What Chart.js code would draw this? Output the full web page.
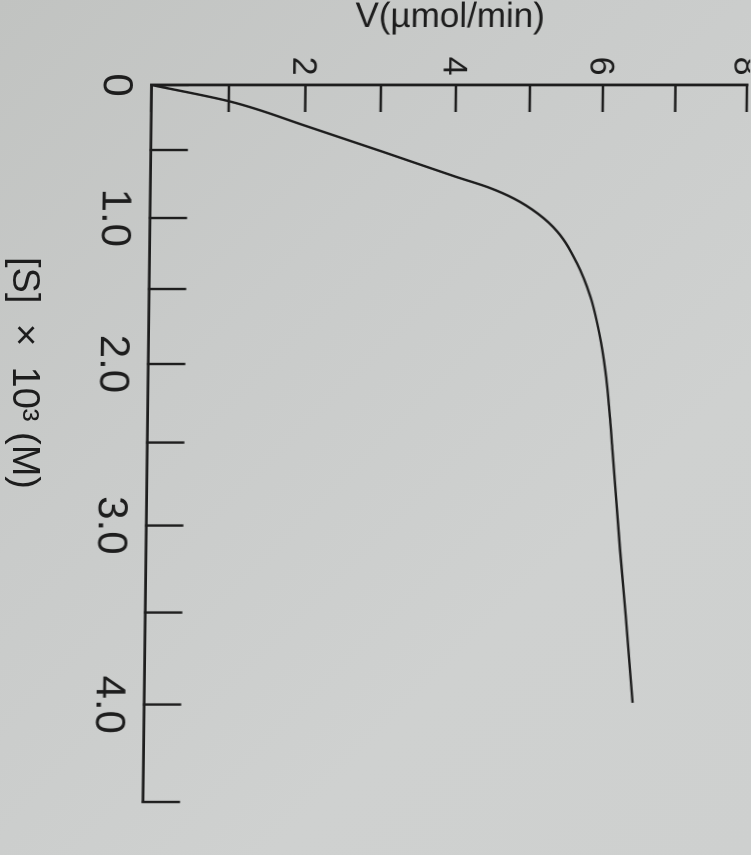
<!DOCTYPE html>
<html><head><meta charset="utf-8">
<script src="https://cdn.jsdelivr.net/npm/chart.js@4.4.1/dist/chart.umd.min.js"></script>
<style>
html,body{margin:0;padding:0;width:751px;height:855px;overflow:hidden;}
body{position:relative;background:linear-gradient(135deg,#c1c3c1 0%,#c9cbca 35%,#cfd1d0 70%,#ced0cf 100%);font-family:"Liberation Sans",Arial,sans-serif;}
#wrap{position:absolute;left:0;top:0;width:855px;height:751px;transform-origin:0 0;transform:skewX(-0.69deg) translate(751px,0) rotate(90deg);}
#c{display:block;width:855px;height:751px;}
#xt{position:absolute;left:6px;top:257px;width:40px;writing-mode:vertical-rl;font-family:"Liberation Sans",Arial,sans-serif;font-size:38px;line-height:40px;color:#1d1d1d;white-space:nowrap;}
</style></head><body>
<div id="wrap"><canvas id="c" width="855" height="751"></canvas></div>
<div id="xt"></div>
<script>
// ---- data ----
const substrate = [0, 0.13, 0.32, 0.51, 0.70, 0.78, 0.86, 0.97, 1.10, 1.32, 1.55, 1.80, 2.05, 2.30, 2.55, 3.14, 3.52, 3.99]; // [S] x 10^3 (M)
const velocity  = [0, 1.02, 2.02, 3.01, 4.01, 4.46, 4.80, 5.13, 5.40, 5.67, 5.86, 5.99, 6.08, 6.14, 6.19, 6.31, 6.40, 6.51]; // V (µmol/min)
const xLabelValues = [0, 1, 2, 3, 4];
const xLabelTexts  = ['0', '1.0', '2.0', '3.0', '4.0'];
const yLabelValues = [2, 4, 6, 8];
const xTitle = '[S] × 10³ (M)';
const yTitle = 'V(µmol/min)';

document.getElementById('xt').textContent = xTitle;

// Linear scale with a mild projective warp (the photo is taken in perspective)
class WarpScale extends Chart.LinearScale {
  getPixelForValue(value) {
    if (value === null || value === undefined || isNaN(value)) return NaN;
    const k = this.options.warp || 0;
    const t = (value - this.min) / (this.max - this.min);
    return this.getPixelForDecimal(t * (1 + k) / (1 + k * t));
  }
  getValueForPixel(pixel) {
    const k = this.options.warp || 0;
    const u = this.getDecimalForPixel(pixel);
    return this.min + (u / (1 + k - k * u)) * (this.max - this.min);
  }
}
WarpScale.id = 'warp';
WarpScale.defaults = Chart.LinearScale.defaults;
Chart.register(WarpScale);

const ink = '#1d1d1d';
const fam = '"Liberation Sans", Arial, sans-serif';
const noPad = s => { s.paddingTop = 0; s.paddingBottom = 0; s.paddingLeft = 0; s.paddingRight = 0; };

new Chart(document.getElementById('c'), {
  type: 'line',
  data: {
    datasets: [{
      data: substrate.map((s, i) => ({x: s, y: velocity[i]})),
      borderColor: ink,
      borderWidth: 2.4,
      pointRadius: 0,
      fill: false,
      cubicInterpolationMode: 'monotone'
    }]
  },
  options: {
    responsive: false,
    animation: false,
    devicePixelRatio: 2,
    layout: {padding: {left: 0, top: 3, right: 53, bottom: 0}},
    plugins: {legend: {display: false}, title: {display: false}, tooltip: {enabled: false}},
    scales: {
      x: {
        type: 'warp', warp: -0.204, position: 'bottom', min: 0, max: 4.5,
        ticks: {
          stepSize: 0.5, autoSkip: false, maxRotation: 0, minRotation: 0,
          padding: 52, color: ink, font: {family: fam, size: 42, lineHeight: 1},
          callback: v => { const i = xLabelValues.indexOf(v); return i >= 0 ? xLabelTexts[i] : ''; }
        },
        grid: {drawOnChartArea: false, drawTicks: true, tickLength: -37, tickWidth: 2.4, tickColor: ink, color: ink},
        border: {display: true, color: ink, width: 2.8},
        title: {display: false},
        afterFit: s => { s.height = 152.7; noPad(s); }
      },
      y: {
        type: 'warp', warp: 0.0457, position: 'left', min: 0, max: 8,
        ticks: {
          stepSize: 1, autoSkip: false, padding: 36.5, labelOffset: 3, color: ink,
          font: {family: fam, size: 34, lineHeight: 1},
          callback: v => yLabelValues.includes(v) ? String(v) : ''
        },
        grid: {drawOnChartArea: false, drawTicks: true, tickLength: -27, tickWidth: 2.4, tickColor: ink, color: ink},
        border: {display: true, color: ink, width: 2.8},
        title: {display: true, text: yTitle, color: ink, font: {family: fam, size: 35, lineHeight: 1}, padding: {top: 0, bottom: 0}},
        afterFit: s => { s.width = 85; noPad(s); }
      }
    }
  }
});
</script>
</body></html>
